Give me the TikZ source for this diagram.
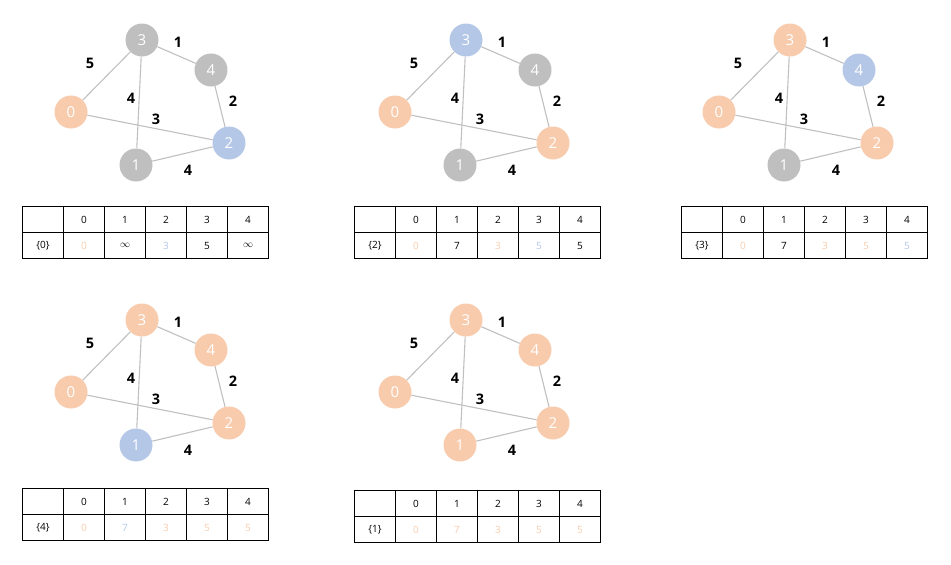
\documentclass[tikz,border=0pt]{standalone}
\usepackage{fontspec}
\setmainfont{Open Sans}
\definecolor{vo}{HTML}{F8CBAD}
\definecolor{vb}{HTML}{B4C7E7}
\definecolor{vg}{HTML}{BFBFBF}
\definecolor{eg}{HTML}{C0C0C0}
\tikzset{
 vtx/.style={circle,fill=#1,minimum size=33pt,inner sep=0pt,text=white,font=\fontsize{15}{15}\selectfont},
 edge/.style={draw=eg,line width=1.1pt},
 wlab/.style={font=\bfseries\fontsize{14.5}{14.5}\selectfont},
 cell/.style={draw=black,line width=1pt,minimum width=41pt,minimum height=26pt,inner sep=0pt,font=\fontsize{10}{10}\selectfont,anchor=north west}
}
\newcommand\mygraph[8]{
 \begin{scope}[shift={(#2,#3)}]
 \node[vtx=#4] (#1n0) at (71,112) {0};
 \node[vtx=#5] (#1n1) at (136,165) {1};
 \node[vtx=#6] (#1n2) at (229,143) {2};
 \node[vtx=#7] (#1n3) at (142,40) {3};
 \node[vtx=#8] (#1n4) at (211,70) {4};
 \begin{scope}[on background layer]
 \draw[edge] (#1n0)--(#1n3); \draw[edge] (#1n3)--(#1n4); \draw[edge] (#1n3)--(#1n1);
 \draw[edge] (#1n4)--(#1n2); \draw[edge] (#1n0)--(#1n2); \draw[edge] (#1n1)--(#1n2);
 \end{scope}
 \node[wlab] (#1w1) at (90,63) {5};
 \node[wlab] (#1w2) at (178,42) {1};
 \node[wlab] (#1w3) at (131,98) {4};
 \node[wlab] (#1w4) at (233,101) {2};
 \node[wlab] (#1w5) at (156,119) {3};
 \node[wlab] (#1w6) at (188,170) {4};
 \end{scope}}
\newcommand\mytable[9]{
 \begin{scope}[shift={(#2,#3)}]
 \node[cell] (#1h) at (0,0) {};
 \node[cell] (#1l) at (0,26) {#4};
 \foreach \c [count=\i from 0] in {0,1,2,3,4}{
   \node[cell] (#1h\i) at (41+\i*41,0) {\c};}
 \node[cell] (#1r0) at (41,26) {#5};
 \node[cell] (#1r1) at (82,26) {#6};
 \node[cell] (#1r2) at (123,26) {#7};
 \node[cell] (#1r3) at (164,26) {#8};
 \node[cell] (#1r4) at (205,26) {#9};
 \end{scope}}
\usetikzlibrary{backgrounds}
\begin{document}
\begin{tikzpicture}[x=1pt,y=-1pt]
\useasboundingbox (0,0) rectangle (951,565);
\mygraph{a}{0}{0}{vo}{vg}{vb}{vg}{vg}
\mygraph{b}{324}{0}{vo}{vg}{vo}{vb}{vg}
\mygraph{c}{648}{0}{vo}{vg}{vo}{vo}{vb}
\mygraph{d}{0}{280}{vo}{vb}{vo}{vo}{vo}
\mygraph{e}{324}{280}{vo}{vo}{vo}{vo}{vo}
\mytable{ta}{22}{206}{\{0\}}{\color{vo}0}{$\infty$}{\color{vb}3}{5}{$\infty$}
\mytable{tb}{354}{206}{\{2\}}{\color{vo}0}{7}{\color{vo}3}{\color{vb}5}{5}
\mytable{tc}{681}{206}{\{3\}}{\color{vo}0}{7}{\color{vo}3}{\color{vo}5}{\color{vb}5}
\mytable{td}{22}{488}{\{4\}}{\color{vo}0}{\color{vb}7}{\color{vo}3}{\color{vo}5}{\color{vo}5}
\mytable{te}{354}{490}{\{1\}}{\color{vo}0}{\color{vo}7}{\color{vo}3}{\color{vo}5}{\color{vo}5}
\end{tikzpicture}
\end{document}
